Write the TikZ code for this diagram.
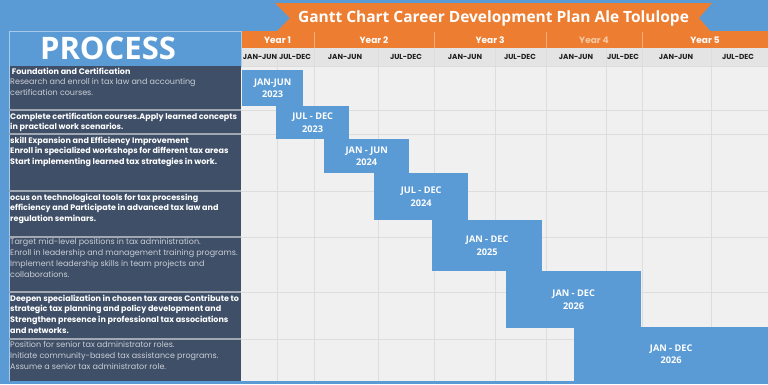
\documentclass[tikz,border=0pt]{standalone}
\usepackage{fontspec}
\setmainfont{Open Sans}
\newfontfamily\pop{Poppins}
\definecolor{bgblue}{HTML}{5B9BD5}
\definecolor{barblue}{HTML}{5B9BD5}
\definecolor{orng}{HTML}{ED7D31}
\definecolor{navy}{HTML}{3F4F67}
\definecolor{gridbg}{HTML}{F0F0F0}
\definecolor{subgray}{HTML}{E4E4E4}
\definecolor{gridline}{HTML}{DDDDDD}
\definecolor{lighttext}{HTML}{C9CED6}
\definecolor{sepgray}{HTML}{A0A8B3}
\definecolor{cellborder}{HTML}{A9C9E8}
\definecolor{fadeyear}{HTML}{F6C8A2}
\tikzset{
  bar/.style={fill=barblue, inner sep=0pt, anchor=north west},
  barlabel/.style={text=white, font=\fontsize{9.2}{12.5}\selectfont\bfseries, align=center, inner sep=0pt},
  yearlabel/.style={text=white, font=\pop\fontsize{9}{10}\selectfont\bfseries, inner sep=0pt},
  sublabel/.style={text=black!88, font=\pop\fontsize{7.3}{8}\selectfont\bfseries, inner sep=0pt},
  proctext/.style={anchor=north west, inner sep=0pt, align=left, font=\pop\fontsize{8}{10.8}\selectfont},
  procbold/.style={proctext, text=white, font=\pop\fontsize{8}{10.8}\selectfont\bfseries},
  gline/.style={draw=gridline, line width=0.7pt},
  sepline/.style={draw=sepgray, line width=1.3pt}
}
\begin{document}
\begin{tikzpicture}[x=1pt,y=-1pt]
\useasboundingbox (0,0) rectangle (768,384);
\fill[bgblue] (0,0) rectangle (768,384);
% banner
\fill[orng] (275,3) -- (712,3) -- (699,18) -- (712,33) -- (275,33) -- (290,18) -- cycle;
\node[text=white, font=\fontsize{15.5}{18}\selectfont\bfseries, inner sep=0pt] (title) at (493.5,18.5) {Gantt Chart Career Development Plan Ale Tolulope};
% year header
\fill[orng] (241,31) rectangle (768,48);
\foreach \x in {314,434,546,642}{\draw[fadeyear!70!orng, line width=0.8pt] (\x,32) -- (\x,48);}
\node[yearlabel] (y1) at (277.5,40) {Year 1};
\node[yearlabel] (y2) at (374,40) {Year 2};
\node[yearlabel] (y3) at (490,40) {Year 3};
\node[yearlabel, text=fadeyear] (y4) at (594,40) {Year 4};
\node[yearlabel] (y5) at (705,40) {Year 5};
% grid area
\fill[gridbg] (241,48) rectangle (768,381);
\fill[subgray] (241,48) rectangle (768,66);
\foreach \x in {277,314,378,434,495,546,606,642,711}{\draw[gline] (\x,48) -- (\x,381);}
\foreach \y in {66,110,134,191,237,292,339}{\draw[gline] (241,\y) -- (768,\y);}
\node[sublabel] (s1) at (260,57) {JAN-JUN};
\node[sublabel] (s2) at (295,57) {JUL-DEC};
\node[sublabel] (s3) at (345,57) {JAN-JUN};
\node[sublabel] (s4) at (406,57) {JUL-DEC};
\node[sublabel] (s5) at (465,57) {JAN-JUN};
\node[sublabel] (s6) at (520,57) {JUL-DEC};
\node[sublabel] (s7) at (576,57) {JAN-JUN};
\node[sublabel] (s8) at (623,57) {JUL-DEC};
\node[sublabel] (s9) at (676,57) {JAN-JUN};
\node[sublabel] (s10) at (738,57) {JUL-DEC};
% process column
\draw[cellborder, line width=0.8pt] (9,31) rectangle (241,66);
\node[text=white, font=\fontsize{31}{34}\selectfont\bfseries, inner sep=0pt] (proc) at (108,48.5) {PROCESS};
\fill[navy] (9,66) rectangle (241,381);
\draw[cellborder, line width=0.8pt] (9,66) -- (9,381);
\foreach \y in {110,134,191,237,292,339}{\draw[sepline] (9,\y) -- (241,\y);}
\node[proctext] (r1) at (10,67.5) {\textcolor{white}{\bfseries\ Foundation and Certification}\\\textcolor{lighttext}{Research and enroll in tax law and accounting}\\\textcolor{lighttext}{certification courses.}};
\node[procbold] (r2) at (10,112.5) {Complete certification courses.Apply learned concepts\\in practical work scenarios.};
\node[procbold] (r3) at (10,136.5) {skill Expansion and Efficiency Improvement\\Enroll in specialized workshops for different tax areas\\Start implementing learned tax strategies in work.};
\node[procbold] (r4) at (10,193.5) {ocus on technological tools for tax processing\\efficiency and Participate in advanced tax law and\\regulation seminars.};
\node[proctext, text=lighttext] (r5) at (10,238.5) {Target mid-level positions in tax administration.\\Enroll in leadership and management training programs.\\Implement leadership skills in team projects and\\collaborations.};
\node[procbold] (r6) at (10,294.5) {Deepen specialization in chosen tax areas Contribute to\\strategic tax planning and policy development and\\Strengthen presence in professional tax associations\\and networks.};
\node[proctext, text=lighttext] (r7) at (10,341.5) {Position for senior tax administrator roles.\\Initiate community-based tax assistance programs.\\Assume a senior tax administrator role.};
% bars
\node[bar, minimum width=61pt, minimum height=36pt] (b1) at (242,70) {};
\node[bar, minimum width=73pt, minimum height=33pt] (b2) at (276,106) {};
\node[bar, minimum width=85pt, minimum height=34pt] (b3) at (324,139) {};
\node[bar, minimum width=94pt, minimum height=47pt] (b4) at (374,173) {};
\node[bar, minimum width=110pt, minimum height=51pt] (b5) at (432,220) {};
\node[bar, minimum width=135pt, minimum height=57pt] (b6) at (506,271) {};
\node[bar, minimum width=194pt, minimum height=54pt] (b7) at (574,327) {};
\node[barlabel] (l1) at (b1.center) {JAN-JUN\\2023};
\node[barlabel] (l2) at (b2.center) {JUL - DEC\\2023};
\node[barlabel] (l3) at (b3.center) {JAN - JUN\\2024};
\node[barlabel] (l4) at (b4.center) {JUL - DEC\\2024};
\node[barlabel] (l5) at (b5.center) {JAN - DEC\\2025};
\node[barlabel] (l6) at (b6.center) {JAN - DEC\\2026};
\node[barlabel] (l7) at (b7.center) {JAN - DEC\\2026};
\end{tikzpicture}
\end{document}
